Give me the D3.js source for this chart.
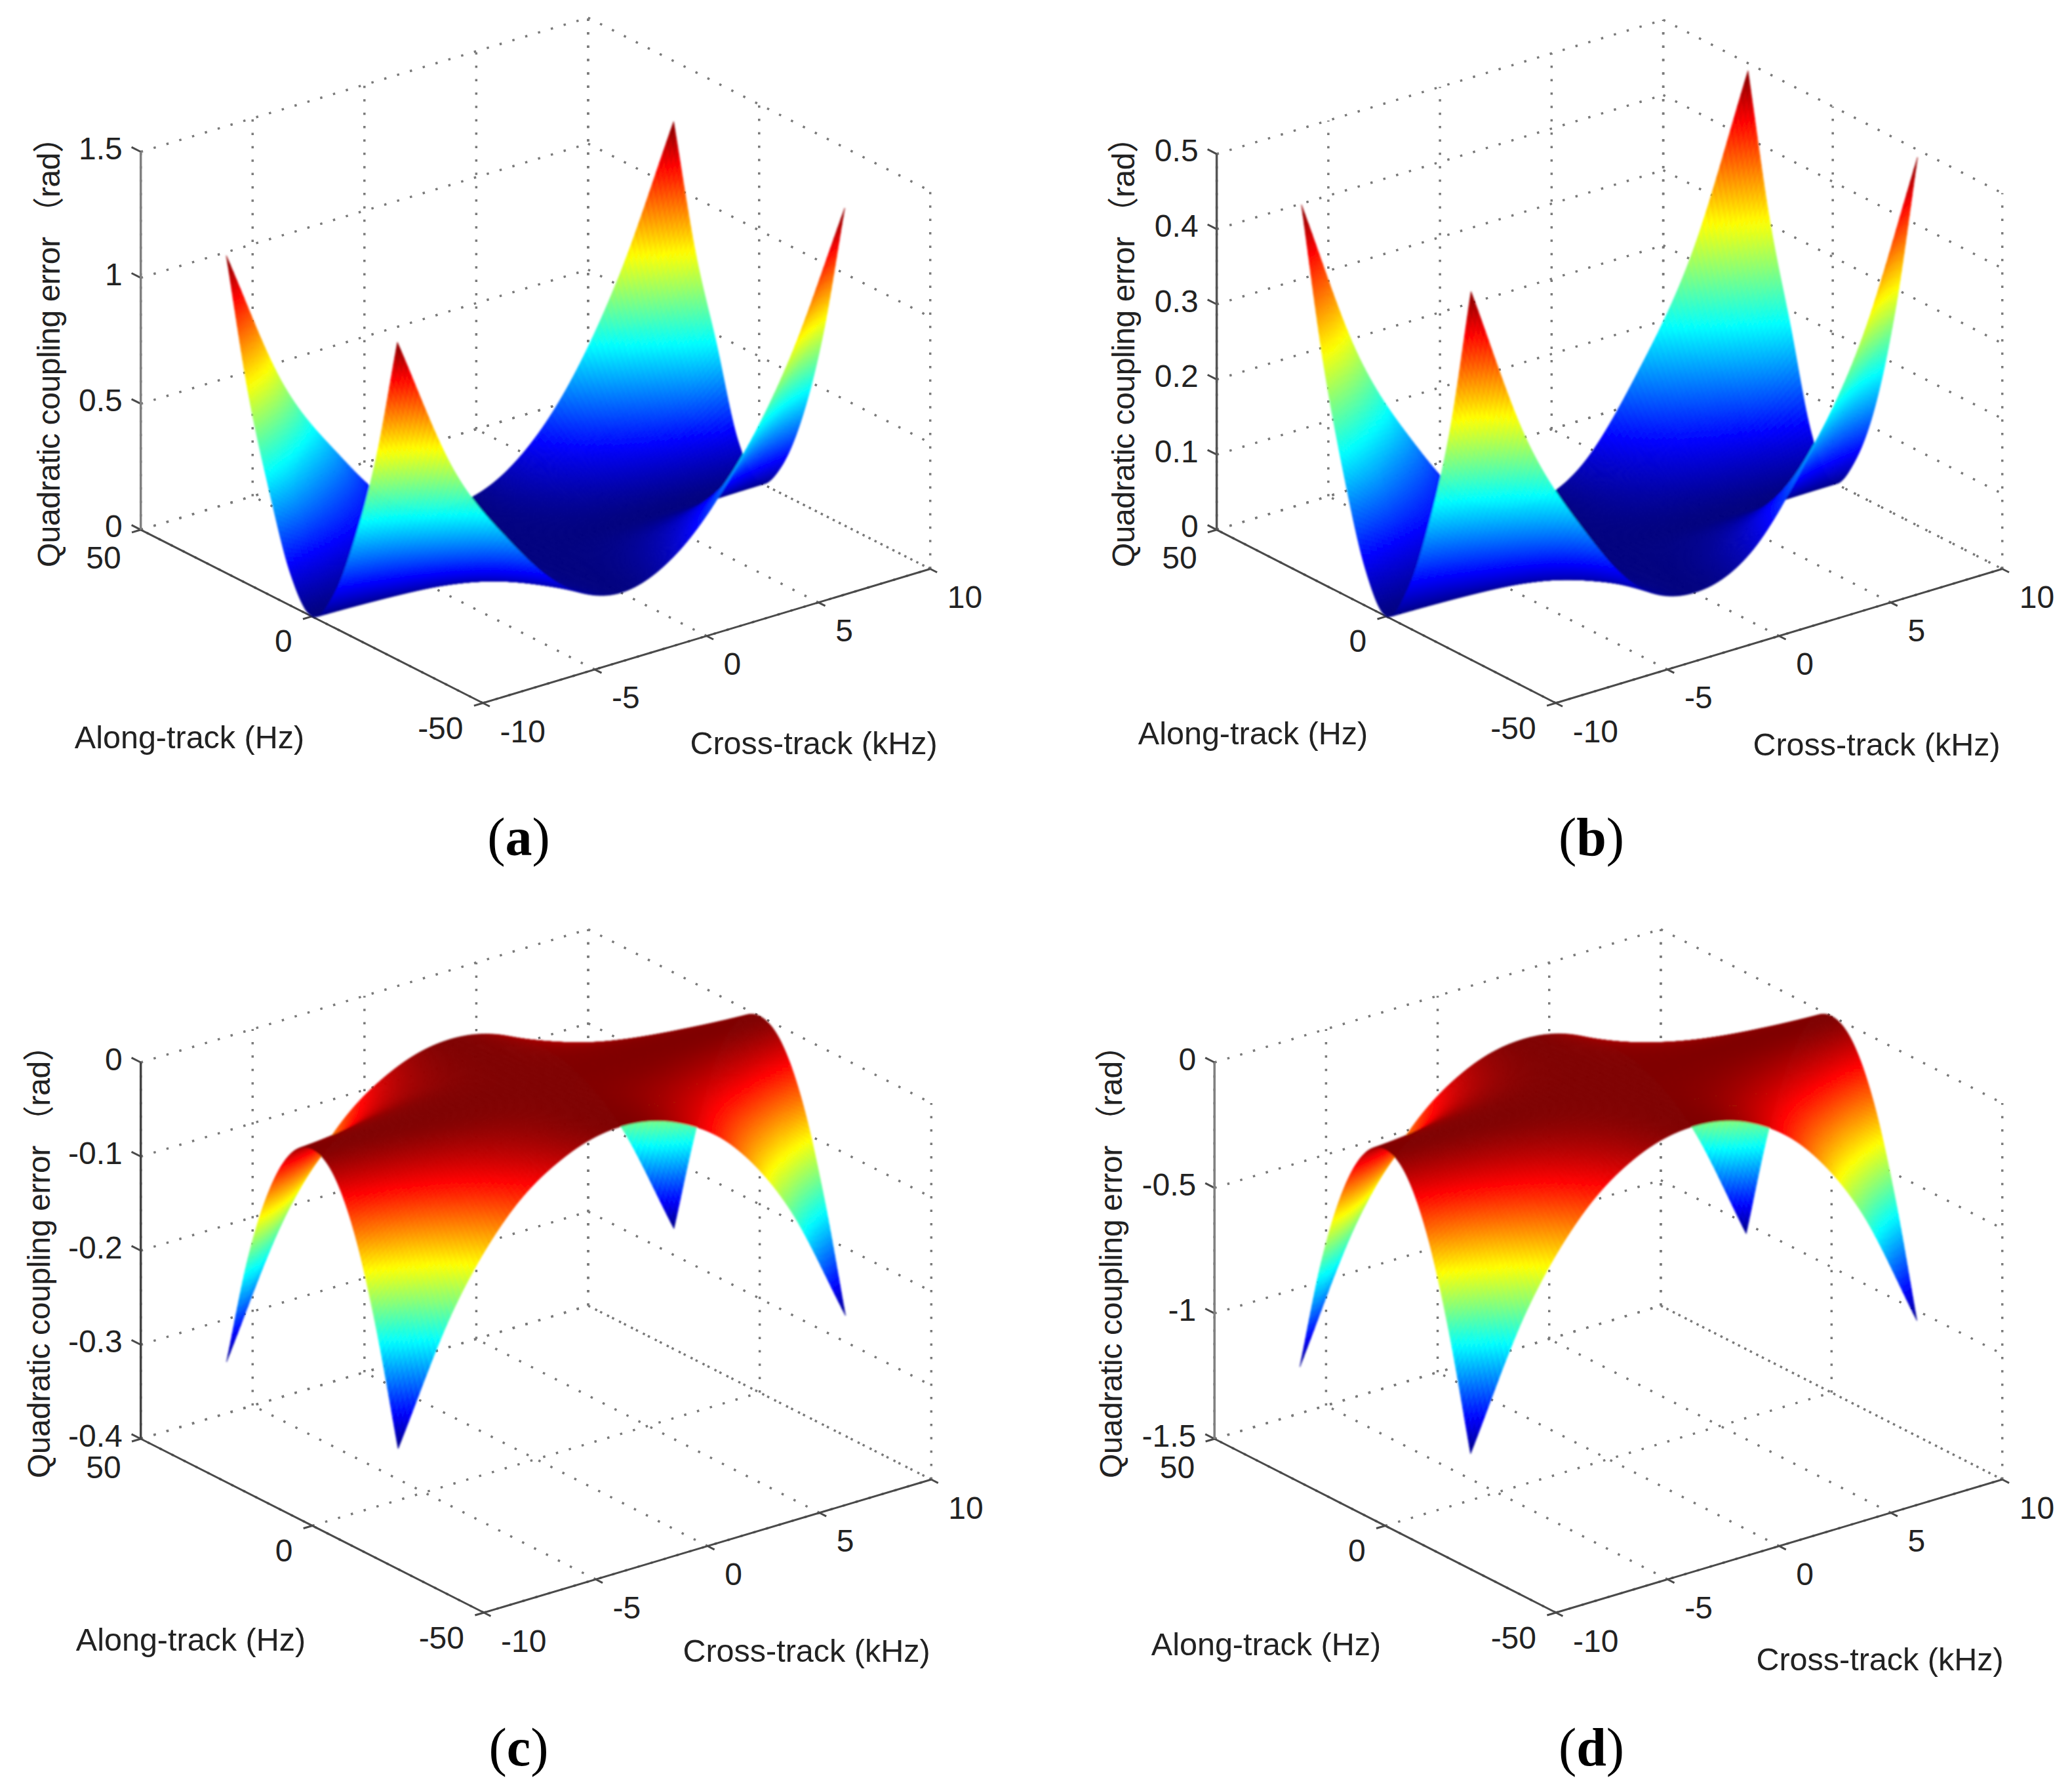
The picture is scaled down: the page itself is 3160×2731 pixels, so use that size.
<!DOCTYPE html>
<html>
<head>
<meta charset="utf-8">
<script src="https://cdn.jsdelivr.net/npm/d3@7"></script>
<style>
    body { margin: 0; background: #fff; }
    text { font-family: "Liberation Sans", "Noto Sans CJK SC", sans-serif; fill: #222; }
</style>
</head>
<body>
<div id="drawing_region"></div>
<script>
// grid the surface values were read on
const crossGrid = [-10, -7.5, -5, -2.5, 0, 2.5, 5, 7.5, 10];
const alongGrid = [-25, -18.75, -12.5, -6.25, 0, 6.25, 12.5, 18.75, 25];

const alongTicks = [-50, 0, 50];
const crossTicks = [-10, -5, 0, 5, 10];

const zTicksA = [0, 0.5, 1, 1.5];
const zTicksB = [0, 0.1, 0.2, 0.3, 0.4, 0.5];
const zTicksC = [-0.4, -0.3, -0.2, -0.1, 0];
const zTicksD = [-1.5, -1, -0.5, 0];

// one row per alongGrid value, one column per crossGrid value
const surfaceA = [
    [1.26, 0.69, 0.34, 0.09, 0, 0.09, 0.34, 0.72, 1.26],
    [0.756, 0.416, 0.204, 0.053, 0, 0.053, 0.195, 0.42, 0.72],
    [0.39, 0.215, 0.105, 0.027, 0, 0.027, 0.10, 0.21, 0.34],
    [0.126, 0.069, 0.034, 0.009, 0, 0.009, 0.032, 0.066, 0.10],
    [0, 0, 0, 0, 0, 0, 0, 0, 0],
    [0.126, 0.069, 0.034, 0.009, 0, 0.009, 0.03, 0.066, 0.126],
    [0.416, 0.229, 0.112, 0.029, 0, 0.029, 0.105, 0.235, 0.466],
    [0.769, 0.423, 0.207, 0.054, 0, 0.054, 0.20, 0.43, 0.794],
    [1.26, 0.69, 0.34, 0.08, 0, 0.07, 0.30, 0.70, 1.26]
];
const surfaceB = [
    [0.49, 0.27, 0.13, 0.03, 0, 0.03, 0.13, 0.27, 0.49],
    [0.29, 0.16, 0.08, 0.02, 0, 0.02, 0.08, 0.16, 0.28],
    [0.15, 0.08, 0.04, 0.01, 0, 0.01, 0.04, 0.08, 0.13],
    [0.05, 0.027, 0.013, 0.004, 0, 0.004, 0.013, 0.026, 0.04],
    [0, 0, 0, 0, 0, 0, 0, 0, 0],
    [0.05, 0.027, 0.013, 0.004, 0, 0.004, 0.012, 0.026, 0.05],
    [0.16, 0.09, 0.045, 0.012, 0, 0.012, 0.042, 0.09, 0.18],
    [0.30, 0.165, 0.08, 0.022, 0, 0.02, 0.08, 0.17, 0.31],
    [0.49, 0.27, 0.13, 0.03, 0, 0.03, 0.13, 0.27, 0.49]
];
const surfaceC = [
    [-0.272, -0.141, -0.057, -0.014, 0, -0.014, -0.057, -0.141, -0.272],
    [-0.158, -0.082, -0.033, -0.008, 0, -0.008, -0.033, -0.082, -0.158],
    [-0.069, -0.036, -0.015, -0.004, 0, -0.004, -0.015, -0.036, -0.069],
    [-0.016, -0.008, -0.003, -0.001, 0, -0.001, -0.003, -0.008, -0.016],
    [0, 0, 0, 0, 0, 0, 0, 0, 0],
    [-0.016, -0.008, -0.003, -0.001, 0, -0.001, -0.003, -0.008, -0.016],
    [-0.066, -0.036, -0.015, -0.004, 0, -0.004, -0.015, -0.036, -0.066],
    [-0.15, -0.082, -0.033, -0.008, 0, -0.008, -0.033, -0.082, -0.158],
    [-0.272, -0.141, -0.057, -0.014, 0, -0.014, -0.057, -0.141, -0.272]
];
const surfaceD = [
    [-1.04, -0.54, -0.22, -0.052, 0, -0.052, -0.22, -0.54, -1.04],
    [-0.603, -0.313, -0.128, -0.03, 0, -0.03, -0.128, -0.313, -0.603],
    [-0.265, -0.138, -0.056, -0.013, 0, -0.013, -0.056, -0.138, -0.265],
    [-0.062, -0.032, -0.013, -0.003, 0, -0.003, -0.013, -0.032, -0.062],
    [0, 0, 0, 0, 0, 0, 0, 0, 0],
    [-0.062, -0.032, -0.013, -0.003, 0, -0.003, -0.013, -0.032, -0.062],
    [-0.255, -0.138, -0.056, -0.013, 0, -0.013, -0.056, -0.138, -0.265],
    [-0.58, -0.313, -0.128, -0.03, 0, -0.03, -0.128, -0.313, -0.603],
    [-1.04, -0.54, -0.22, -0.052, 0, -0.052, -0.22, -0.54, -1.04]
];

const jetStops = ['#00007f', '#0000ff', '#00ffff', '#ffff00', '#ff0000', '#7f0000'];

const svg = d3.select('#drawing_region').append('svg')
    .attr('width', 3160)
    .attr('height', 2731)
    .style('display', 'block');

svg.append('defs').append('filter')
    .attr('id', 'soft')
    .attr('filterUnits', 'userSpaceOnUse')
    .attr('x', 0).attr('y', 0).attr('width', 3160).attr('height', 2731)
    .append('feGaussianBlur')
    .attr('stdDeviation', 1.4);

class SurfacePlot {

    constructor( config, data ) {
        this.config = config;
        this.data = data;
        this.steps = config.steps || 128;
        this.init();
    }

    init() {
        let self = this;
        let c = self.config;

        self.chart = svg.append('g');

        // box edges on screen; front corner is along -50, cross -10
        self.xalong = d3.scaleLinear().domain([-50, 50]).range([0, 1]);
        self.xcross = d3.scaleLinear().domain([-10, 10]).range([0, 1]);
        self.zscale = d3.scaleLinear()
            .domain(d3.extent(c.zticks))
            .range([0, c.left[1] - c.top]);

        self.color = d3.scaleLinear()
            .domain([0, 0.125, 0.375, 0.625, 0.875, 1])
            .range(jetStops)
            .clamp(true);

        let flat = self.data.flat();
        self.level = d3.scaleLinear().domain(d3.extent(flat)).range([0, 1]);

        // the box axes are at right angles in 3D, which fixes the view direction
        let ax = c.left[0] - c.front[0], ay = c.front[1] - c.left[1];
        let bx = c.right[0] - c.front[0], by = c.front[1] - c.right[1];
        let cy = c.left[1] - c.top;
        let cn = Math.sqrt((ay * cy) * (by * cy) / -(ax * bx + ay * by));
        self.depth = { a: -ay * cy / cn, b: -by * cy / cn, z: cn };
    }

    project( along, cross, z ) {
        let c = this.config;
        let a = this.xalong(along), b = this.xcross(cross);
        let x = c.front[0] + a * (c.left[0] - c.front[0]) + b * (c.right[0] - c.front[0]);
        let y = c.front[1] + a * (c.left[1] - c.front[1]) + b * (c.right[1] - c.front[1]);
        return [x, y - this.zscale(z)];
    }

    // smooth the drawn mesh between the read values
    spline( p, t ) {
        let n = p.length;
        let i = Math.min(Math.floor(t), n - 2);
        let s = t - i;
        let p1 = p[i], p2 = p[i + 1];
        let p0 = i > 0 ? p[i - 1] : 2 * p1 - p2;
        let p3 = i < n - 2 ? p[i + 2] : 2 * p2 - p1;
        return 0.5 * (2 * p1 + (p2 - p0) * s + (2 * p0 - 5 * p1 + 4 * p2 - p3) * s * s + (3 * p1 - p0 - 3 * p2 + p3) * s * s * s);
    }

    update() {
        let self = this;
        let m = self.steps;
        let zmin = self.zscale.domain()[0], zmax = self.zscale.domain()[1];

        let iAlong = d3.scaleLinear().domain(d3.extent(alongGrid)).range([0, alongGrid.length - 1]);
        let iCross = d3.scaleLinear().domain(d3.extent(crossGrid)).range([0, crossGrid.length - 1]);
        let along = d3.range(m + 1).map(i => alongGrid[0] + i * (alongGrid[alongGrid.length - 1] - alongGrid[0]) / m);
        let cross = d3.range(m + 1).map(j => crossGrid[0] + j * (crossGrid[crossGrid.length - 1] - crossGrid[0]) / m);

        let columns = crossGrid.map((_, j) => self.data.map(row => row[j]));
        let mesh = along.map(al => {
            let col = columns.map(cl => self.spline(cl, iAlong(al)));
            return cross.map(cr => self.spline(col, iCross(cr)));
        });

        self.quads = [];
        for (let i = 0; i < m; i++) {
            for (let j = 0; j < m; j++) {
                let zs = [mesh[i][j], mesh[i + 1][j], mesh[i + 1][j + 1], mesh[i][j + 1]];
                let als = [along[i], along[i + 1], along[i + 1], along[i]];
                let crs = [cross[j], cross[j], cross[j + 1], cross[j + 1]];
                let zm = d3.mean(zs);
                self.quads.push({
                    pts: zs.map((z, k) => self.project(als[k], crs[k], z)),
                    z: zm,
                    depth: self.depth.a * self.xalong(d3.mean(als)) + self.depth.b * self.xcross(d3.mean(crs)) + self.depth.z * (zm - zmin) / (zmax - zmin)
                });
            }
        }
        self.quads.sort((p, q) => p.depth - q.depth);

        self.render();
    }

    render() {
        let self = this;
        let c = self.config;
        let zmin = self.zscale.domain()[0], zmax = self.zscale.domain()[1];
        let line = d3.line();

        // dotted box grid
        let grids = [];
        crossTicks.forEach(t => {
            grids.push([self.project(-50, t, zmin), self.project(50, t, zmin)]);
            grids.push([self.project(50, t, zmin), self.project(50, t, zmax)]);
        });
        alongTicks.forEach(t => {
            grids.push([self.project(t, -10, zmin), self.project(t, 10, zmin)]);
            grids.push([self.project(t, 10, zmin), self.project(t, 10, zmax)]);
        });
        c.zticks.forEach(t => {
            grids.push([self.project(50, -10, t), self.project(50, 10, t)]);
            grids.push([self.project(50, 10, t), self.project(-50, 10, t)]);
        });
        self.chart.append('g').selectAll('path')
            .data(grids)
            .join('path')
            .attr('d', line)
            .attr('fill', 'none')
            .attr('stroke', '#7a7a7a')
            .attr('stroke-width', 3.5)
            .attr('stroke-dasharray', '3.5 16.9');

        // solid axes and ticks
        let axes = [
            [self.project(50, -10, zmin), self.project(-50, -10, zmin)],
            [self.project(-50, -10, zmin), self.project(-50, 10, zmin)]
        ];
        alongTicks.forEach(t => {
            axes.push([self.project(t, -10, zmin), self.project(t, -10.4, zmin)]);
        });
        crossTicks.forEach(t => {
            axes.push([self.project(-50, t, zmin), self.project(-52, t, zmin)]);
        });
        c.zticks.forEach(t => {
            axes.push([self.project(50, -10, t), self.project(52.7, -10, t)]);
        });
        self.chart.append('g').selectAll('path')
            .data(axes)
            .join('path')
            .attr('d', line)
            .attr('fill', 'none')
            .attr('stroke', '#4a4a4a')
            .attr('stroke-width', 3);

        self.chart.append('path')
            .attr('d', line([self.project(50, -10, zmin), self.project(50, -10, zmax)]))
            .attr('stroke', c.zcolor)
            .attr('stroke-width', 3.5);

        // surface, far cells first
        self.chart.append('g')
            .attr('filter', 'url(#soft)')
            .selectAll('polygon')
            .data(self.quads)
            .join('polygon')
            .attr('points', d => d.pts.join(' '))
            .attr('fill', d => self.color(self.level(d.z)))
            .attr('stroke', d => self.color(self.level(d.z)))
            .attr('stroke-width', 0.8);

        // tick labels
        let label = self.chart.append('g')
            .attr('font-size', 48)
            .attr('dominant-baseline', 'central');

        label.selectAll('.z')
            .data(c.zticks)
            .join('text')
            .attr('class', 'z')
            .attr('text-anchor', 'end')
            .attr('x', d => self.project(50, -10, d)[0] - 28)
            .attr('y', d => self.project(50, -10, d)[1] - 5)
            .text(d => d);

        label.selectAll('.along')
            .data(alongTicks)
            .join('text')
            .attr('class', 'along')
            .attr('text-anchor', 'end')
            .attr('x', d => self.project(d, -10, zmin)[0] - 30)
            .attr('y', d => self.project(d, -10, zmin)[1] + (d === 50 ? 43 : 38))
            .text(d => d);

        label.selectAll('.cross')
            .data(crossTicks)
            .join('text')
            .attr('class', 'cross')
            .attr('text-anchor', 'start')
            .attr('x', d => self.project(-50, d, zmin)[0] + 26)
            .attr('y', d => self.project(-50, d, zmin)[1] + 43)
            .text(d => d);

        // axis titles and panel letter
        self.chart.append('text')
            .attr('x', c.alongLabel[0]).attr('y', c.alongLabel[1])
            .attr('font-size', 48.5)
            .attr('text-anchor', 'middle')
            .attr('dominant-baseline', 'central')
            .text('Along-track (Hz)');

        self.chart.append('text')
            .attr('x', c.crossLabel[0]).attr('y', c.crossLabel[1])
            .attr('font-size', 48.5)
            .attr('text-anchor', 'middle')
            .attr('dominant-baseline', 'central')
            .text('Cross-track (kHz)');

        self.chart.append('text')
            .attr('transform', `translate(${c.zLabel[0]}, ${c.zLabel[1]}) rotate(-90)`)
            .attr('font-size', 48)
            .attr('text-anchor', 'middle')
            .attr('dominant-baseline', 'central')
            .attr('textLength', c.zLabel[2])
            .text('Quadratic coupling error  （rad）');

        let letter = self.chart.append('text')
            .attr('x', c.letter[0]).attr('y', c.letter[1])
            .attr('font-size', 82)
            .attr('text-anchor', 'middle')
            .attr('dominant-baseline', 'central')
            .style('font-family', '"Liberation Serif", serif')
            .style('fill', '#000');
        letter.append('tspan').text('(');
        letter.append('tspan').attr('font-weight', 'bold').text(c.name);
        letter.append('tspan').text(')');
    }
}

let panels = [
    { name: 'a', zticks: zTicksA, data: surfaceA, zcolor: '#808080', left: [214.7, 807.8], top: 231.5, front: [736.5, 1072], right: [1418.7, 867.5],
      alongLabel: [289, 1124], crossLabel: [1241, 1133], zLabel: [74, 525, 680], letter: [791, 1276] },
    { name: 'b', zticks: zTicksB, data: surfaceB, zcolor: '#555', left: [1855.6, 807.8], top: 234.8, front: [2372.7, 1072], right: [3053.7, 867.5],
      alongLabel: [1911, 1118], crossLabel: [2862, 1135], zLabel: [1713, 525, 680], letter: [2427, 1276] },
    { name: 'c', zticks: zTicksC, data: surfaceC, zcolor: '#444', left: [214.7, 2194], top: 1620, front: [738, 2459], right: [1420.3, 2256],
      alongLabel: [291, 2500], crossLabel: [1230, 2517], zLabel: [59, 1912, 684], letter: [791, 2664] },
    { name: 'd', zticks: zTicksD, data: surfaceD, zcolor: '#808080', left: [1852.2, 2194], top: 1620, front: [2373, 2459], right: [3053.7, 2256],
      alongLabel: [1931, 2507], crossLabel: [2867, 2530], zLabel: [1694, 1912, 684], letter: [2427, 2664] }
];

panels.forEach(p => {
    let plot = new SurfacePlot( p, p.data );
    plot.update();
});
</script>
</body>
</html>
